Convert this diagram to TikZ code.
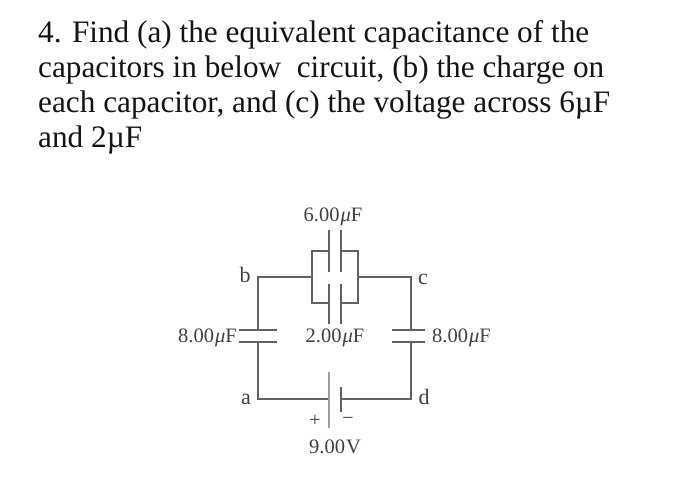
\documentclass[tikz,border=0pt]{standalone}
\usepackage{fontspec}
\setmainfont{Liberation Serif}
\begin{document}
\begin{tikzpicture}[x=1pt,y=-1pt,
  headline/.style={anchor=base west,inner sep=0pt,font=\fontsize{31.25}{32}\selectfont,text=black!92},
  lab/.style={inner sep=0pt,font=\fontsize{20.5}{21}\selectfont,text=black!75},
  letterlab/.style={lab,font=\fontsize{22}{22}\selectfont},
  wire/.style={draw=black!62,line width=1.8pt,line cap=butt,line join=miter},
  plate/.style={draw=black!62,line width=2.2pt}]
\useasboundingbox (0,0) rectangle (700,489);
\fill[white] (0,0) rectangle (700,489);
\node[headline] (l1) at (38,43) {4. Find (a) the equivalent capacitance of the};
\node[headline] (l2) at (38,78) {capacitors in below\ \ circuit, (b) the charge on};
\node[headline] (l3) at (38,113) {each capacitor, and (c) the voltage across 6µF};
\node[headline] (l4) at (38,147) {and 2µF};
% junctions
\coordinate (a) at (258,399); \coordinate (b) at (258,277);
\coordinate (c) at (411,277); \coordinate (d) at (411,399);
\coordinate (pl) at (312,277); \coordinate (pr) at (358,277);
\coordinate (ptl) at (312,251); \coordinate (ptr) at (358,251);
\coordinate (pbl) at (312,303); \coordinate (pbr) at (358,303);
\coordinate (t1) at (329,251); \coordinate (t2) at (341,251);
\coordinate (u1) at (329,303); \coordinate (u2) at (341,303);
\coordinate (lc1) at (258,330); \coordinate (lc2) at (258,342);
\coordinate (rc1) at (411,330); \coordinate (rc2) at (411,342);
\coordinate (b1) at (329,399); \coordinate (b2) at (341,399);
% wires
\draw[wire] (lc1) -- (b) -- (pl);
\draw[wire] (t1) -- (ptl) -- (pbl) -- (u1);
\draw[wire] (t2) -- (ptr) -- (pbr) -- (u2);
\draw[wire] (pr) -- (c) -- (rc1);
\draw[wire] (lc2) -- (a) -- (b1);
\draw[wire] (rc2) -- (d) -- (b2);
% plates
\draw[plate] (329,230) -- (329,272);
\draw[plate] (341,230) -- (341,272);
\draw[plate] (329,284) -- (329,324);
\draw[plate] (341,284) -- (341,324);
\draw[plate] (239,330) -- (277,330);
\draw[plate] (239,342) -- (277,342);
\draw[plate] (392,330) -- (425,330);
\draw[plate] (392,342) -- (425,342);
\draw[plate,draw=black!38] (329,372) -- (329,428);
\draw[plate] (341,387) -- (341,412);
% labels
\node[lab] (c6) at (333,217) {6.00\kern1pt\textit{μ}F};
\node[lab] (c2) at (335,338) {2.00\kern1pt\textit{μ}F};
\node[lab,anchor=east] (cl) at (237,338) {8.00\kern1pt\textit{μ}F};
\node[lab,anchor=west] (cr) at (432,338) {8.00\kern1pt\textit{μ}F};
\node[letterlab] (nb) at (245,275) {b};
\node[letterlab] (nc) at (423,279) {c};
\node[letterlab] (na) at (246,399) {a};
\node[letterlab] (nd) at (424,397) {d};
\node[lab,font=\fontsize{20}{20}\selectfont] (plus) at (315,421) {+};
\node[lab,font=\fontsize{20}{20}\selectfont] (minus) at (348,421) {−};
\node[lab] (v) at (335,447) {9.00\kern1pt V};
\end{tikzpicture}
\end{document}
